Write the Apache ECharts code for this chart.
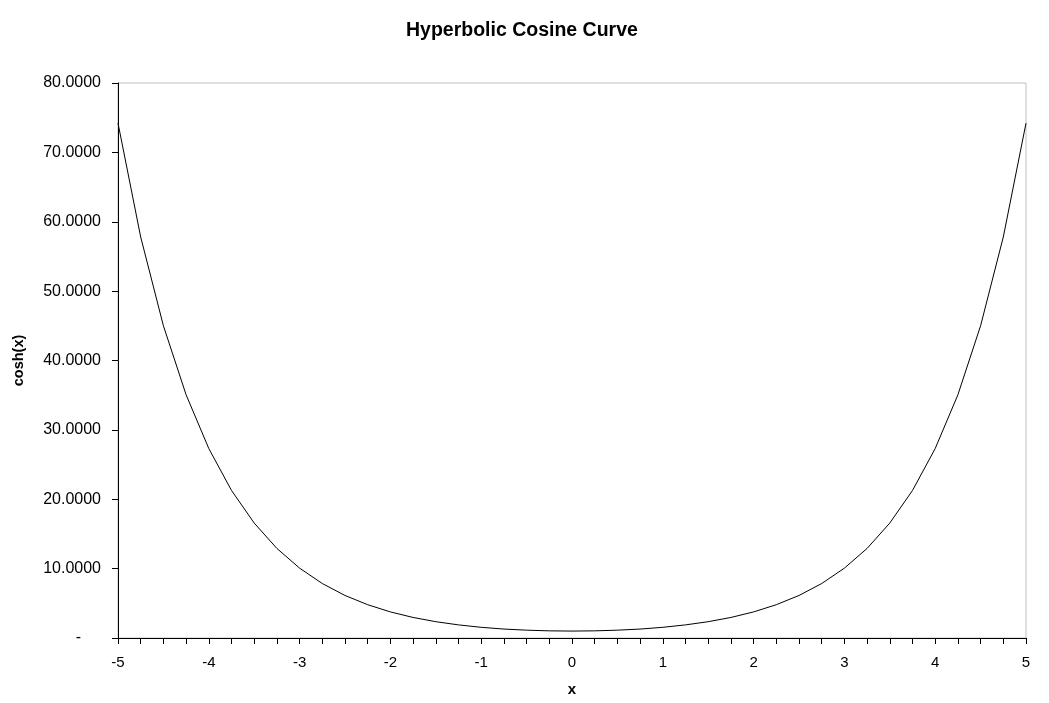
<!DOCTYPE html>
<html>
<head>
<meta charset="utf-8">
<script src="https://cdn.jsdelivr.net/npm/echarts@6/dist/echarts.min.js"></script>
<style>
  html, body { margin: 0; padding: 0; background: #fff; }
  #chart { width: 1049px; height: 703px; }
</style>
</head>
<body>
<div id="chart"></div>
<script>
// x values, step 0.25
var xValues = ['-5', '-4.75', '-4.5', '-4.25', '-4', '-3.75', '-3.5', '-3.25', '-3', '-2.75',
  '-2.5', '-2.25', '-2', '-1.75', '-1.5', '-1.25', '-1', '-0.75', '-0.5', '-0.25',
  '0', '0.25', '0.5', '0.75', '1', '1.25', '1.5', '1.75', '2', '2.25',
  '2.5', '2.75', '3', '3.25', '3.5', '3.75', '4', '4.25', '4.5', '4.75', '5']
// cosh(x)
var coshValues = [74.21, 57.80, 45.01, 35.06, 27.31, 21.27, 16.57, 12.91, 10.07, 7.85,
  6.13, 4.80, 3.76, 2.96, 2.35, 1.89, 1.54, 1.29, 1.13, 1.03,
  1.00, 1.03, 1.13, 1.29, 1.54, 1.89, 2.35, 2.96, 3.76, 4.80,
  6.13, 7.85, 10.07, 12.91, 16.57, 21.27, 27.31, 35.06, 45.01, 57.80, 74.21]
var yTicks = [0, 10, 20, 30, 40, 50, 60, 70, 80]

var chart = echarts.init(document.getElementById('chart'))
var fontFam = '"Liberation Sans", Arial, sans-serif'

var option = {
  backgroundColor: '#ffffff',
  animation: false,
  title: {
    text: 'Hyperbolic Cosine Curve',
    left: 401,
    top: 16,
    textStyle: { fontFamily: fontFam, fontSize: 19.5, fontWeight: 'bold', color: '#000' }
  },
  grid: {
    left: 118, right: 23, top: 83, bottom: 65,
    show: true,
    borderColor: '#c0c0c0',
    borderWidth: 1,
    containLabel: false
  },
  xAxis: {
    type: 'category',
    data: xValues,
    boundaryGap: false,
    name: 'x',
    nameLocation: 'middle',
    nameGap: 44,
    nameTextStyle: { fontFamily: fontFam, fontSize: 15, fontWeight: 'bold', color: '#000' },
    axisLine: { lineStyle: { color: '#000', width: 1 } },
    axisTick: { interval: 0, length: 6, lineStyle: { color: '#000' } },
    axisLabel: {
      interval: 3,
      margin: 17,
      fontFamily: fontFam,
      fontSize: 15,
      color: '#000'
    },
    splitLine: { show: false }
  },
  yAxis: {
    type: 'value',
    min: yTicks[0],
    max: yTicks[yTicks.length - 1],
    interval: 10,
    name: 'cosh(x)',
    nameLocation: 'middle',
    nameRotate: 90,
    nameGap: 92,
    nameTextStyle: { fontFamily: fontFam, fontSize: 14.5, fontWeight: 'bold', color: '#000' },
    axisLine: { show: true, lineStyle: { color: '#000', width: 1 } },
    axisTick: { show: true, length: 6, lineStyle: { color: '#000' } },
    axisLabel: {
      margin: 17,
      fontFamily: fontFam,
      fontSize: 16,
      color: '#000',
      formatter: function (v) {
        return v === 0 ? '{d|-}' : v.toFixed(4)
      },
      rich: {
        d: { fontFamily: fontFam, fontSize: 16, color: '#000', padding: [0, 20, 0, 0] }
      }
    },
    splitLine: { show: false }
  },
  series: [{
    type: 'line',
    data: coshValues,
    showSymbol: false,
    symbol: 'none',
    lineStyle: { color: '#000', width: 1 }
  }]
}

chart.setOption(option)
</script>
</body>
</html>
